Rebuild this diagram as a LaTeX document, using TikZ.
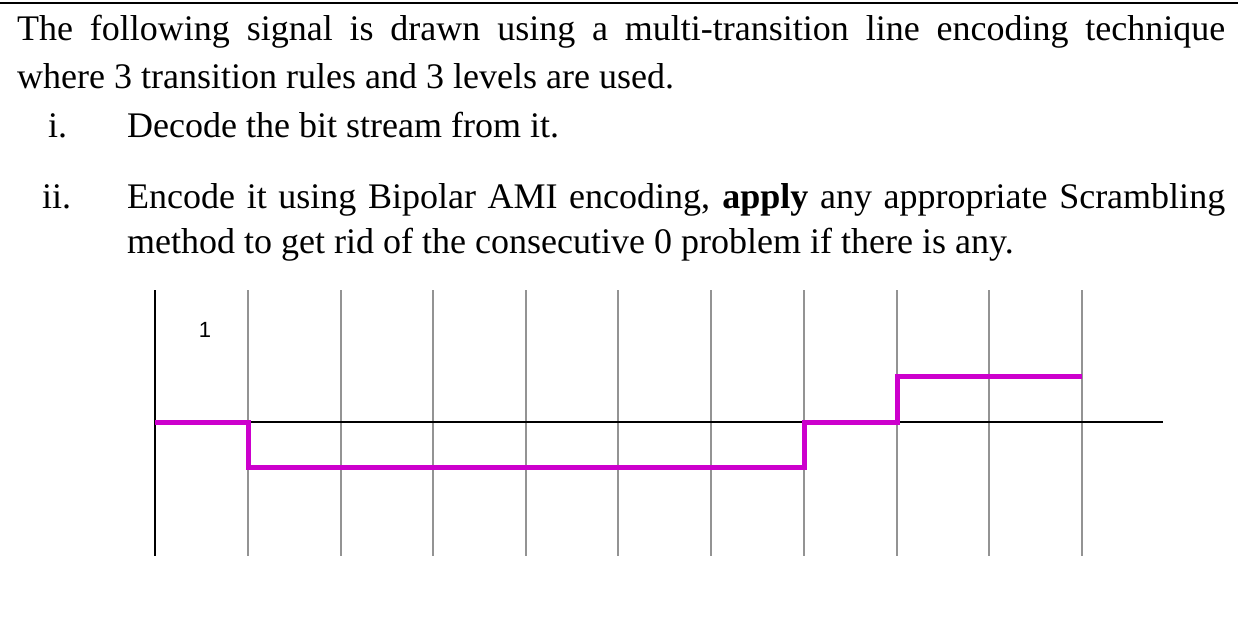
\documentclass[tikz,border=0pt]{standalone}
\usepackage{fontspec}
\setmainfont{Liberation Serif}
\setsansfont{Liberation Sans}
\definecolor{sigc}{HTML}{CC00CC}
\begin{document}
\begin{tikzpicture}[x=1pt,y=-1pt,
  txt/.style={anchor=base west,inner sep=0pt,font=\fontsize{36}{40}\selectfont},
  grid/.style={draw=gray!85,line width=2pt},
  sig/.style={draw=sigc,line width=5pt,line join=miter},
  ]
\useasboundingbox (0,0) rectangle (1238,616);
\fill[white] (0,0) rectangle (1238,616);
\draw[line width=1.2pt] (0,3) -- (1238,3);
\node[txt] (l1) at (17,40) {\makebox[1208pt][s]{The following signal is drawn using a multi-transition line encoding technique}};
\node[txt] (l2) at (17,88) {where 3 transition rules and 3 levels are used.};
\node[txt] (i) at (48,137) {i.};
\node[txt] (it) at (127,137) {Decode the bit stream from it.};
\node[txt] (ii) at (42,208) {ii.};
\node[txt] (iit) at (127,208) {\makebox[1098pt][s]{Encode it using Bipolar AMI encoding, \textbf{apply} any appropriate Scrambling}};
\node[txt] (iit2) at (127,253) {method to get rid of the consecutive 0 problem if there is any.};
\foreach \x in {248,341,433,526,618,711,804,897,989,1082} \draw[grid] (\x,290) -- (\x,556);
\draw[line width=2pt] (155,290) -- (155,556);
\draw[line width=2pt] (155,422) -- (1163,422);
\node[font=\sffamily\fontsize{22}{22}\selectfont,inner sep=0pt] (one) at (205,330) {1};
\draw[sig] (155,422) -- (248,422) -- (248,467) -- (804,467) -- (804,422) -- (897,422) -- (897,376) -- (1082,376);
\end{tikzpicture}
\end{document}
